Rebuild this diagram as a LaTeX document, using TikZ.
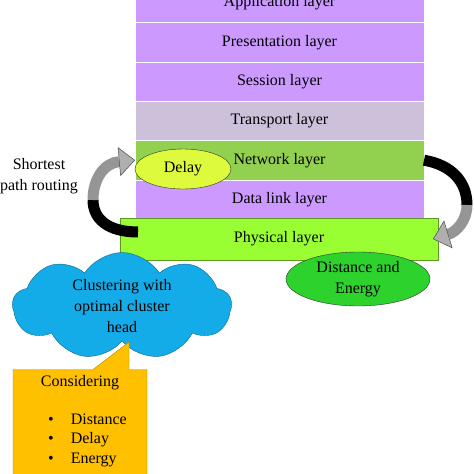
\documentclass[tikz,border=0pt]{standalone}
\usepackage{fontspec}
\setmainfont{Liberation Serif}
\usetikzlibrary{shapes.geometric,shapes.symbols,shapes.callouts,arrows.meta}

\definecolor{layerpurple}{RGB}{204,153,255}
\definecolor{transgray}{RGB}{204,192,218}
\definecolor{netgreen}{RGB}{146,208,80}
\definecolor{physgreen}{RGB}{153,255,51}
\definecolor{delayyellow}{RGB}{222,250,60}
\definecolor{degreen}{RGB}{45,210,45}
\definecolor{cloudblue}{RGB}{20,172,232}
\definecolor{amber}{RGB}{255,192,0}
\definecolor{tipgray}{RGB}{175,175,175}

\begin{document}
\begin{tikzpicture}[x=1pt,y=-1pt]
\tikzstyle{txt}=[font=\fontsize{16}{21}\selectfont]
\tikzstyle{layer}=[txt,draw=white,fill=layerpurple,minimum width=289pt,minimum height=39.3pt,inner sep=0pt,outer sep=0pt]
\tikzstyle{bigarrow}=[line width=11pt]
\tikzstyle{arrowhead}=[-{Triangle[length=16pt,width=29pt,line width=0.5pt,color=black!70,fill=tipgray]}]

\useasboundingbox (0,0) rectangle (474,474);
\clip (0,0) rectangle (474,474);

% the protocol stack
\node (app)   [layer] at (279.5,3) {Application layer};
\node (pres)  [layer] at (279.5,42.3) {Presentation layer};
\node (sess)  [layer] at (279.5,81.6) {Session layer};
\node (trans) [layer, fill=transgray] at (279.5,120.9) {Transport layer};
\node (net)   [layer, fill=netgreen] at (279.5,160.2) {Network layer};
\node (dlink) [layer] at (279.5,199.5) {Data link layer};
\node (phys)  [layer, fill=physgreen, draw=physgreen!60!black, line width=0.4pt, minimum width=318pt, minimum height=42pt] at (279,239) {Physical layer};

\node (sprt) [txt, align=center] at (39,176) {Shortest\\path routing};

% curved arrows
\coordinate (lmid) at (93,200);
\coordinate (ltail) at (138,232);
\draw[bigarrow] (ltail) .. controls (108,232) and (93,219) .. (lmid);
\draw[bigarrow, arrowhead, tipgray!85!black] (lmid) .. controls (93,179) and (104,163) .. (net.west);

\coordinate (rmid) at (467,205);
\draw[bigarrow] (net.east) .. controls (452,165) and (467,182) .. (rmid);
\draw[bigarrow, arrowhead, tipgray!85!black] (rmid) .. controls (467,221) and (456,232) .. ([xshift=-5pt]phys.east);

% ellipses
\node (dly) [txt, ellipse, fill=delayyellow, draw=black!80, minimum width=96pt, minimum height=40pt, inner sep=0pt] at (183,169) {Delay};
\node (de) [txt, ellipse, fill=degreen, draw=black!80, minimum width=144pt, minimum height=54pt, inner sep=0pt, align=center] at (358,279) {Distance and\\Energy};

% cloud and callout
\node (clus) [txt, cloud, cloud puffs=9, cloud puff arc=115, aspect=2.05, fill=cloudblue, draw=cloudblue!60!black, minimum width=219pt, minimum height=107pt, inner sep=0pt, align=center] at (122,306) {Clustering with\\optimal cluster\\head};

\node (cons) [rectangle callout, fill=amber, draw=amber!70!black, minimum width=134pt, minimum height=125pt, callout absolute pointer={(129,342)}, callout pointer width=36pt] at (80,432) {};
\node (conshd) [txt] at (80,383) {Considering};
\node (conslist) [font=\fontsize{16}{19.5}\selectfont, align=left, anchor=west, inner sep=0pt] at (48,440) {\textbullet\hspace{17pt}Distance\\\textbullet\hspace{17pt}Delay\\\textbullet\hspace{17pt}Energy};

\end{tikzpicture}
\end{document}
